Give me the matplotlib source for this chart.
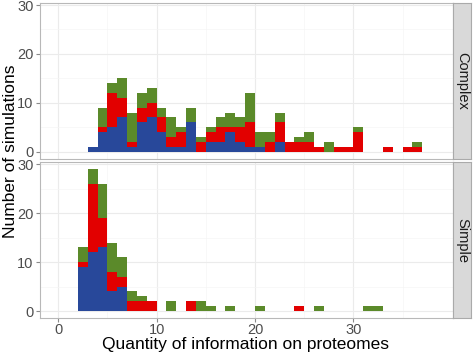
import matplotlib.pyplot as plt
import numpy as np

plt.rcParams['font.family'] = ['Liberation Sans', 'DejaVu Sans']

# histogram counts per unit bin, stacked blue / red / green
complex_bins = list(range(3, 37))
complex_blue = [1, 4, 5, 7, 1, 6, 7, 4, 1, 1, 6, 0, 2, 2, 4, 2, 1, 1, 0, 2, 0, 0, 0, 0, 0, 0, 0, 0, 0, 0, 0, 0, 0, 0]
complex_red = [0, 1, 7, 4, 1, 3, 3, 3, 2, 3, 0, 2, 2, 3, 1, 3, 5, 0, 2, 4, 2, 2, 2, 1, 0, 1, 1, 4, 0, 0, 1, 0, 1, 1]
complex_green = [0, 4, 2, 4, 6, 3, 3, 2, 4, 1, 3, 1, 1, 2, 3, 2, 6, 3, 2, 2, 0, 1, 2, 0, 2, 0, 0, 1, 0, 0, 0, 0, 0, 1]

simple_bins = list(range(2, 33))
simple_blue = [9, 12, 13, 4, 5, 0, 0, 0, 0, 0, 0, 0, 0, 0, 0, 0, 0, 0, 0, 0, 0, 0, 0, 0, 0, 0, 0, 0, 0, 0, 0]
simple_red = [1, 14, 6, 4, 2, 2, 2, 2, 0, 0, 0, 2, 0, 0, 0, 0, 0, 0, 0, 0, 0, 0, 1, 0, 0, 0, 0, 0, 0, 0, 0]
simple_green = [3, 3, 7, 6, 4, 2, 1, 0, 0, 2, 0, 0, 2, 1, 0, 1, 0, 0, 1, 0, 0, 0, 0, 0, 1, 0, 0, 0, 0, 1, 1]

panel_names = ['Complex', 'Simple']
colors = ['#28489a', '#e20000', '#5b8a2a']

W, H = 474, 354
fig = plt.figure(figsize=(W / 100, H / 100), dpi=100)


def px_box(x0, y0, x1, y1):
    return [x0 / W, 1 - y1 / H, (x1 - x0) / W, (y1 - y0) / H]


panels = [
    (complex_bins, complex_blue, complex_red, complex_green, (2.8, 158.8)),
    (simple_bins, simple_blue, simple_red, simple_green, (162.1, 318.1)),
]

for i, (bins, blue, red, green, (top, bottom)) in enumerate(panels):
    ax = fig.add_axes(px_box(40, top, 452.7, bottom))
    bins = np.array(bins)
    blue = np.array(blue)
    red = np.array(red)
    green = np.array(green)
    ax.bar(bins, blue, width=1, align='edge', color=colors[0], linewidth=0, zorder=2)
    ax.bar(bins, red, width=1, align='edge', bottom=blue, color=colors[1], linewidth=0, zorder=2)
    ax.bar(bins, green, width=1, align='edge', bottom=blue + red, color=colors[2], linewidth=0, zorder=2)

    ax.set_xlim(-1.86, 40.1)
    ax.set_ylim(-1.45, 30.45)
    ax.set_xticks([0, 10, 20, 30])
    ax.set_xticks([5, 15, 25, 35], minor=True)
    ax.set_yticks([0, 10, 20, 30])
    ax.set_yticks([5, 15, 25], minor=True)
    ax.grid(True, which='major', color='#ebebeb', linewidth=0.8, zorder=0)
    ax.grid(True, which='minor', color='#f5f5f5', linewidth=0.5, zorder=0)
    ax.set_axisbelow(True)
    for s in ax.spines.values():
        s.set_color('#b8b8b8')
        s.set_linewidth(0.8)
    ax.tick_params(axis='y', which='major', length=3, color='#8a8a8a', labelsize=10.5,
                   labelcolor='#4d4d4d', pad=1.5)
    ax.tick_params(which='minor', length=0)
    if i == 0:
        ax.tick_params(axis='x', which='major', length=0, labelbottom=False)
    else:
        ax.tick_params(axis='x', which='major', length=3, color='#8a8a8a', labelsize=10.5,
                       labelcolor='#4d4d4d', pad=0.5)

    strip = fig.add_axes(px_box(453, top, 471, bottom))
    strip.set_facecolor('#d9d9d9')
    strip.set_xticks([])
    strip.set_yticks([])
    for s in strip.spines.values():
        s.set_color('#aaaaaa')
        s.set_linewidth(0.8)
    strip.text(0.5, 0.5, panel_names[i], rotation=-90, ha='center', va='center',
               fontsize=10.5, color='#1a1a1a', transform=strip.transAxes)

fig.text(11 / W, 1 - 151 / H, 'Number of simulations', rotation=90, ha='center', va='center',
         fontsize=12.5)
fig.text(246 / W, 1 - 352 / H, 'Quantity of information on proteomes', ha='center', va='bottom',
         fontsize=12.5)

fig.savefig('out.png', dpi=100)
